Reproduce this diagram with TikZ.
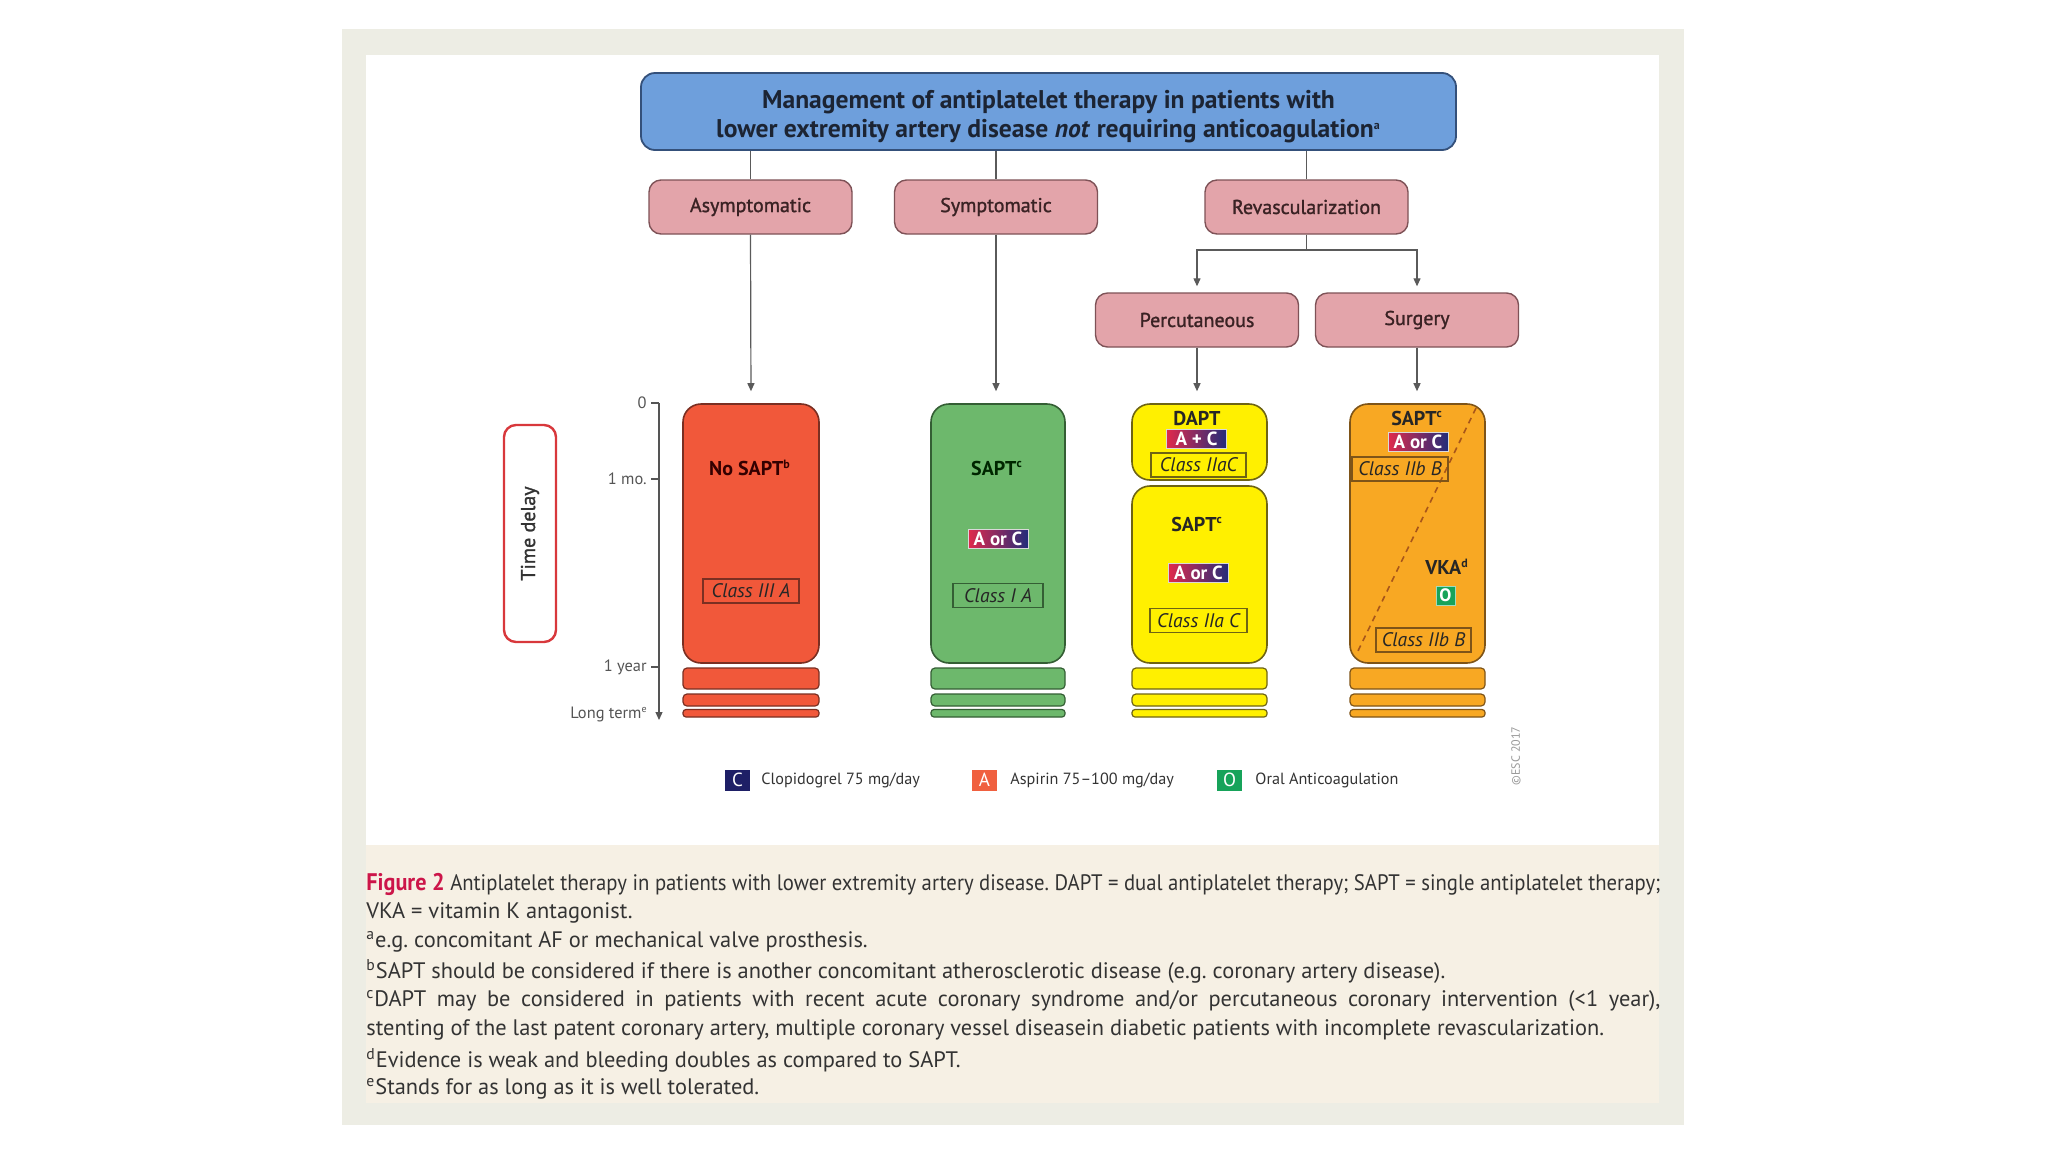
\documentclass[tikz,border=0pt]{standalone}
\usepackage{fontspec}
\setmainfont{PT Sans}
\newfontfamily\semib[FakeBold=1.3]{PT Sans}
\usetikzlibrary{arrows.meta}
\definecolor{framec}{HTML}{EDEDE4}
\definecolor{capbg}{HTML}{F6F0E4}
\definecolor{titlefill}{HTML}{6E9FDC}
\definecolor{titledraw}{HTML}{34507A}
\definecolor{titletext}{HTML}{1C2433}
\definecolor{pinkfill}{HTML}{E3A4AA}
\definecolor{pinkdraw}{HTML}{7E5257}
\definecolor{pinktext}{HTML}{3A2224}
\definecolor{conncol}{HTML}{5A5A5A}
\definecolor{redfill}{HTML}{F1583A}
\definecolor{reddraw}{HTML}{7A2F22}
\definecolor{greenfill}{HTML}{6DB86C}
\definecolor{greendraw}{HTML}{345E34}
\definecolor{yellowfill}{HTML}{FFF000}
\definecolor{yellowdraw}{HTML}{6E6414}
\definecolor{orangefill}{HTML}{F8A823}
\definecolor{orangedraw}{HTML}{7E5418}
\definecolor{badgered}{HTML}{E02A4C}
\definecolor{badgenavy}{HTML}{232C7A}
\definecolor{legnavy}{HTML}{1E1F66}
\definecolor{legred}{HTML}{F0603F}
\definecolor{leggreen}{HTML}{17A35A}
\definecolor{figred}{HTML}{CC1549}
\definecolor{captext}{HTML}{333333}
\definecolor{axisgray}{HTML}{555555}
\definecolor{timered}{HTML}{D8383C}
\definecolor{dashcol}{HTML}{A8561A}
\begin{document}
\frenchspacing
\begin{tikzpicture}[x=0.5pt,y=-0.5pt,
  titlebox/.style={draw=titledraw, fill=titlefill, line width=0.9pt, rounded corners=7pt,
    minimum width=407.5pt, minimum height=38.5pt},
  titletxt/.style={align=center, text=titletext, inner sep=0pt,
    font=\bfseries\fontsize{12.8}{14.4}\selectfont},
  pinkbox/.style={draw=pinkdraw, fill=pinkfill, line width=0.7pt, rounded corners=6pt,
    minimum width=101.5pt, minimum height=27pt, text=pinktext,
    font=\semib\fontsize{10}{12}\selectfont},
  colbox/.style={line width=0.8pt, rounded corners=9pt, minimum width=68pt, inner sep=0pt},
  coltitle/.style={font=\bfseries\fontsize{10}{12}\selectfont, inner sep=0pt},
  badge/.style={left color=badgered, right color=badgenavy, text=white, draw=white!70!gray, line width=0.3pt,
    font=\bfseries\fontsize{9.5}{10}\selectfont, minimum width=30pt, minimum height=9.5pt, inner sep=0pt},
  classbox/.style={draw=#1, line width=0.6pt, font=\itshape\fontsize{9.8}{11}\selectfont,
    minimum width=48pt, minimum height=12pt, inner sep=0pt, text=black!85},
  conn/.style={draw=conncol, line width=0.6pt},
  tip/.style={-{Triangle[length=4pt,width=3.5pt]}},
  stripe/.style={line width=0.6pt, rounded corners=2pt},
  axislabel/.style={anchor=east, text=axisgray, font=\fontsize{8.2}{9}\selectfont, inner sep=0pt},
  legbox/.style={text=white, font=\fontsize{9.5}{10}\selectfont, minimum width=12.5pt, minimum height=10.5pt, inner sep=0pt},
  legtext/.style={anchor=west, text=captext, font=\fontsize{8.1}{10}\selectfont, inner sep=0pt},
  capline/.style={anchor=west, text=captext, font=\fontsize{11.2}{12}\selectfont, inner sep=0pt}
]
\useasboundingbox (0,0) rectangle (2048,1152);
\fill[white] (0,0) rectangle (2048,1152);
\fill[framec] (342,29) rectangle (1684,1125);
\fill[white] (366,55) rectangle (1659,845);
\fill[capbg] (366,845) rectangle (1659,1103);

% title
\node[titlebox] (title) at (1048.5,111.5) {};
\node[titletxt] (titlet) at (1048.5,117)
  {Management of antiplatelet therapy in patients with\\
   lower extremity artery disease \textit{not} requiring anticoagulation\textsuperscript{\fontsize{6}{6}\selectfont a}};

% pink boxes
\node[pinkbox] (asym) at (750.5,207) {Asymptomatic};
\node[pinkbox] (symp) at (996,207) {Symptomatic};
\node[pinkbox] (revasc) at (1306.5,207) {Revascularization};
\node[pinkbox] (perc) at (1197,320) {Percutaneous};
\node[pinkbox] (surg) at (1417,320) {Surgery};

\draw[conn] (asym.north |- title.south) -- (asym.north);
\draw[conn] (symp.north |- title.south) -- (symp.north);
\draw[conn] (revasc.north |- title.south) -- (revasc.north);
\coordinate (rj) at (1306.5,250);
\draw[conn] (revasc.south) -- (rj);
\draw[conn,tip,shorten >=3pt] (rj) -| (perc.north);
\draw[conn,tip,shorten >=3pt] (rj) -| (surg.north);

% columns
\node[colbox, fill=redfill, draw=reddraw, minimum width=68pt, minimum height=129.5pt] (red) at (751,533.5) {};
\node[colbox, fill=greenfill, draw=greendraw, minimum width=67pt, minimum height=129.5pt] (green) at (998,533.5) {};
\node[colbox, fill=yellowfill, draw=yellowdraw, minimum width=67.5pt, minimum height=38pt] (dapt) at (1199.5,442) {};
\node[colbox, fill=yellowfill, draw=yellowdraw, minimum width=67.5pt, minimum height=88.5pt] (ysapt) at (1199.5,574.5) {};
\node[colbox, fill=orangefill, draw=orangedraw, minimum width=67.5pt, minimum height=129.5pt] (orange) at (1417.5,533.5) {};

\draw[conn,tip,shorten >=6pt] (asym.south) -- (red.north);
\draw[conn,tip,shorten >=6pt] (symp.south) -- (symp.south |- green.north);
\draw[conn,tip,shorten >=6pt] (perc.south) -- (perc.south |- dapt.north);
\draw[conn,tip,shorten >=6pt] (surg.south) -- (surg.south |- orange.north);

% stripes
\foreach \xa/\xb/\fc/\dc in {683/819/redfill/reddraw, 931/1065/greenfill/greendraw,
   1132/1267/yellowfill/yellowdraw, 1350/1485/orangefill/orangedraw}{
  \draw[stripe, fill=\fc, draw=\dc] (\xa,668) rectangle (\xb,689);
  \draw[stripe, fill=\fc, draw=\dc] (\xa,694) rectangle (\xb,706);
  \draw[stripe, fill=\fc, draw=\dc, rounded corners=1.5pt] (\xa,709.5) rectangle (\xb,717);
}

% red column content
\node[coltitle, text=black!80!red] (redt) at (750,468) {No SAPT\textsuperscript{\fontsize{6}{6}\selectfont b}};
\node[classbox=reddraw, minimum width=48pt] (redc) at (751,591) {Class III A};

% green column content
\node[coltitle, text=black!85!green] (greent) at (997,468) {SAPT\textsuperscript{\fontsize{6}{6}\selectfont c}};
\node[badge] (greenb) at (998,538.5) {A or C};
\node[classbox=greendraw, minimum width=45pt] (greenc) at (998,595.5) {Class I A};

% yellow DAPT content
\node[coltitle, text=black!85] (daptt) at (1197,418) {DAPT};
\node[badge] (daptb) at (1196.5,438.5) {A + C};
\node[classbox=yellowdraw, minimum width=47.5pt] (daptc) at (1198.5,465) {Class IIaC};

% yellow SAPT content
\node[coltitle, text=black!85] (ysaptt) at (1197,524) {SAPT\textsuperscript{\fontsize{6}{6}\selectfont c}};
\node[badge] (ysaptb) at (1198.5,572.5) {A or C};
\node[classbox=yellowdraw, minimum width=48.5pt] (ysaptc) at (1198.5,620.5) {Class IIa C};

% orange content
\coordinate (dA) at (1476,408);
\coordinate (dB) at (1357,653);
\draw[dashcol, line width=0.8pt, dash pattern=on 3pt off 2.5pt] (dA) -- (dB);
\node[coltitle, text=black!85] (orat) at (1417,418) {SAPT\textsuperscript{\fontsize{6}{6}\selectfont c}};
\node[badge] (orab) at (1418,441.5) {A or C};
\node[classbox=orangedraw, minimum width=48pt] (orac1) at (1400,469) {Class IIb B};
\node[coltitle, text=black!85] (vka) at (1447,567) {VKA\textsuperscript{\fontsize{6}{6}\selectfont d}};
\node[fill=leggreen, draw=white!60!leggreen, line width=0.3pt, minimum width=9.5pt, minimum height=9.5pt, inner sep=0pt,
  text=white, font=\bfseries\fontsize{9}{9}\selectfont] (vkab) at (1445.5,595.5) {O};
\node[classbox=orangedraw, minimum width=47.5pt] (orac2) at (1423.5,640) {Class IIb B};

% time axis
\coordinate (t0) at (659,403);
\coordinate (tend) at (659,720);
\draw[axisgray, line width=0.6pt, tip] (t0) -- (tend);
\draw[axisgray, line width=0.6pt] (651,403) -- (659,403);
\draw[axisgray, line width=0.6pt] (651,479) -- (659,479);
\draw[axisgray, line width=0.6pt] (651,667) -- (659,667);
\node[axislabel] (l0) at (647,403) {0};
\node[axislabel] (l1) at (647,479) {1 mo.};
\node[axislabel] (l2) at (647,667) {1 year};
\node[axislabel] (l3) at (648,714) {Long term\textsuperscript{\fontsize{5}{5}\selectfont e}};

% time delay box
\node[draw=timered, fill=white, line width=1.2pt, rounded corners=6pt, minimum width=26pt, minimum height=108.5pt] (tdbox) at (530,533.5) {};
\node[rotate=90, font=\semib\fontsize{10}{12}\selectfont, text=black!80] (tdtext) at (tdbox.center) {Time delay};

% legend
\node[legbox, fill=legnavy] (legC) at (737.5,780) {C};
\node[legtext] (legCt) at (761,780) {Clopidogrel 75 mg/day};
\node[legbox, fill=legred] (legA) at (984.5,780) {A};
\node[legtext] (legAt) at (1010,780) {Aspirin 75--100 mg/day};
\node[legbox, fill=leggreen] (legO) at (1229.5,780) {O};
\node[legtext] (legOt) at (1255,780) {Oral Anticoagulation};
\node[rotate=90, text=black!40, font=\fontsize{6}{7}\selectfont, inner sep=0pt] (esc) at (1516,756) {\textcopyright ESC 2017};

% caption
\node[capline] (cap1) at (366,884) {\resizebox{647pt}{\height}{\textcolor{figred}{\bfseries\fontsize{12}{12}\selectfont Figure 2} Antiplatelet therapy in patients with lower extremity artery disease. DAPT = dual antiplatelet therapy; SAPT = single antiplatelet therapy;}};
\node[capline] (cap2) at (366,913) {VKA = vitamin K antagonist.};
\node[capline] (cap3) at (366,942) {\textsuperscript{a}e.g. concomitant AF or mechanical valve prosthesis.};
\node[capline] (cap4) at (366,971) {\textsuperscript{b}SAPT should be considered if there is another concomitant atherosclerotic disease (e.g. coronary artery disease).};
\node[capline] (cap5) at (366,1001) {\makebox[647pt][s]{\textsuperscript{c}DAPT may be considered in patients with recent acute coronary syndrome and/or percutaneous coronary intervention (<1 year),}};
\node[capline] (cap6) at (366,1030) {stenting of the last patent coronary artery, multiple coronary vessel diseasein diabetic patients with incomplete revascularization.};
\node[capline] (cap7) at (366,1060) {\textsuperscript{d}Evidence is weak and bleeding doubles as compared to SAPT.};
\node[capline] (cap8) at (366,1089) {\textsuperscript{e}Stands for as long as it is well tolerated.};
\end{tikzpicture}
\end{document}
